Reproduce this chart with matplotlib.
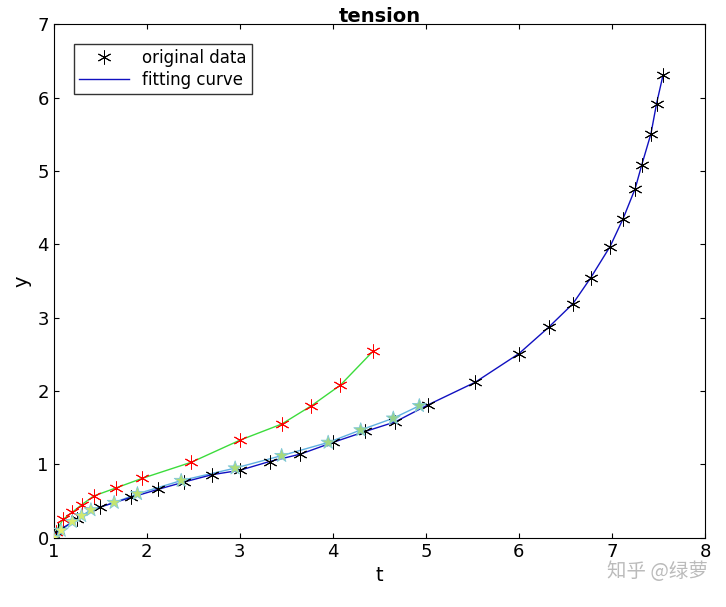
import matplotlib.pyplot as plt
from matplotlib.colors import LinearSegmentedColormap
import numpy as np

t_black = [1.02, 1.05, 1.25, 1.5, 1.83, 2.12, 2.4, 2.7, 3.0, 3.32, 3.65, 4.0, 4.35, 4.67, 5.02,
           5.53, 6.0, 6.32, 6.58, 6.77, 6.98, 7.12, 7.25, 7.32, 7.42, 7.48, 7.55]
y_black = [0.02, 0.1, 0.25, 0.42, 0.55, 0.66, 0.76, 0.86, 0.92, 1.04, 1.14, 1.3, 1.45, 1.58, 1.81,
           2.12, 2.51, 2.87, 3.19, 3.54, 3.97, 4.35, 4.76, 5.08, 5.51, 5.92, 6.31]
t_red = [1.02, 1.1, 1.2, 1.3, 1.43, 1.67, 1.95, 2.48, 3.0, 3.45, 3.77, 4.08, 4.43]
y_red = [0.08, 0.25, 0.35, 0.45, 0.57, 0.68, 0.81, 1.03, 1.33, 1.55, 1.8, 2.08, 2.54]
t_star = [1.0, 1.08, 1.2, 1.3, 1.4, 1.65, 1.9, 2.37, 2.95, 3.45, 3.95, 4.3, 4.65, 4.93]
y_star = [0.0, 0.1, 0.22, 0.3, 0.38, 0.48, 0.6, 0.78, 0.95, 1.12, 1.3, 1.47, 1.63, 1.8]

star_cmap = LinearSegmentedColormap.from_list('stars', ['#e8f070', '#b8e070', '#90d090'])

fig, ax = plt.subplots(figsize=(7.26, 6.07), dpi=100)
fig.subplots_adjust(left=0.074, right=0.971, bottom=0.114, top=0.96)

ax.plot(t_star, y_star, color='#5fb0e0', lw=1)
ax.scatter(t_star, y_star, marker='*', s=110, c=np.linspace(0, 1, len(t_star)),
           cmap=star_cmap, edgecolors='#80c8d8', linewidths=0.6, zorder=3)
ax.plot(t_red, y_red, color='#3cdc3c', lw=1)
ax.plot(t_red, y_red, 'r', marker=(6, 2, 0), ms=10, ls='none', mew=0.7)
ax.plot(t_black, y_black, color='#1010c0', lw=1, label='fitting curve')
ax.plot(t_black, y_black, 'k', marker=(6, 2, 0), ms=10, ls='none', mew=0.7, label='original data')

h, l = ax.get_legend_handles_labels()
ax.legend([h[1], h[0]], [l[1], l[0]], loc='upper left', fancybox=False, edgecolor='black',
          fontsize=12, borderaxespad=1.2, handlelength=3, borderpad=0.3, labelspacing=0.2)

ax.set_xlim(1, 8)
ax.set_ylim(0, 7)
ax.set_title('tension', fontweight='bold', fontsize=14, pad=2)
ax.set_xlabel('t', fontsize=14)
ax.set_ylabel('y', fontsize=14)
ax.tick_params(direction='in', labelsize=13, top=True, right=True)
fig.text(0.975, 0.05, '知乎 @绿萝', ha='right', color='#bbbbbb', fontsize=14,
         family=['Noto Sans CJK SC', 'DejaVu Sans'])
fig.savefig('out.png')
